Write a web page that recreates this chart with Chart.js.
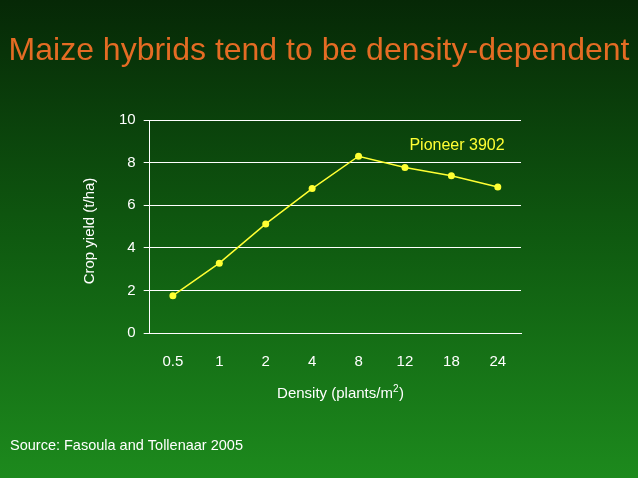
<!DOCTYPE html>
<html><head><meta charset="utf-8">
<script src="https://cdn.jsdelivr.net/npm/chart.js@4/dist/chart.umd.min.js"></script>
<style>
html,body{margin:0;padding:0;width:638px;height:478px;overflow:hidden;
background:linear-gradient(to bottom,#062806 0%,#0f5a10 50%,#1d8a1d 100%);}
#w{position:absolute;left:0;top:0;width:638px;height:478px;}
</style></head><body>
<div id="w"><canvas id="c" width="638" height="478"></canvas></div>
<script>
const categories=['0.5','1','2','4','8','12','18','24'];
const yieldValues=[1.75,3.28,5.12,6.78,8.3,7.77,7.38,6.85];
const seriesName='Pioneer 3902';
const yTicks=[0,2,4,6,8,10];
const F='Arial, "Liberation Sans", sans-serif';
const deco={id:'deco',afterDraw(ch){
 const c=ch.ctx;c.save();
 c.fillStyle='#e46c24';c.font='32px '+F;c.textAlign='center';c.textBaseline='middle';
 c.fillText('Maize hybrids tend to be density-dependent',319,51);
 c.fillStyle='#ffff33';c.font='16px '+F;c.textAlign='center';
 c.fillText(seriesName,457,146);
 c.fillStyle='#ffffff';c.font='15px '+F;c.textAlign='center';
 c.fillText('Density (plants/m',335,394);
 const w=c.measureText('Density (plants/m').width;
 c.font='10px '+F;c.textAlign='left';c.fillText('2',335+w/2,389);
 c.font='15px '+F;c.fillText(')',335+w/2+6,394);
 c.save();c.translate(90,231);c.rotate(-Math.PI/2);c.textAlign='center';
 c.fillText('Crop yield (t/ha)',0,0);c.restore();
 c.font='14.5px '+F;c.textAlign='left';c.fillText('Source: Fasoula and Tollenaar 2005',10,446);
 c.restore();}};
new Chart(document.getElementById('c'),{type:'line',
 data:{labels:categories,datasets:[{label:seriesName,data:yieldValues,borderColor:'#ffff33',backgroundColor:'#ffff33',
  borderWidth:1.5,pointRadius:3.5,pointBackgroundColor:'#ffff33',pointBorderWidth:0,tension:0}]},
 options:{responsive:false,animation:false,events:[],
  layout:{padding:{top:120,bottom:95,left:111,right:117}},
  plugins:{legend:{display:false},tooltip:{enabled:false}},
  scales:{
   x:{offset:true,grid:{display:false,drawTicks:true},border:{color:'#ffffff'},
      ticks:{color:'#ffffff',font:{family:F,size:15},padding:12,maxRotation:0}},
   y:{min:0,max:10,afterBuildTicks(a){a.ticks=yTicks.map(v=>({value:v}));},
      grid:{color:'#ffffff',lineWidth:1,tickLength:6},border:{color:'#ffffff'},
      ticks:{color:'#ffffff',font:{family:F,size:15},padding:8}}}},
 plugins:[deco]});
</script></body></html>
